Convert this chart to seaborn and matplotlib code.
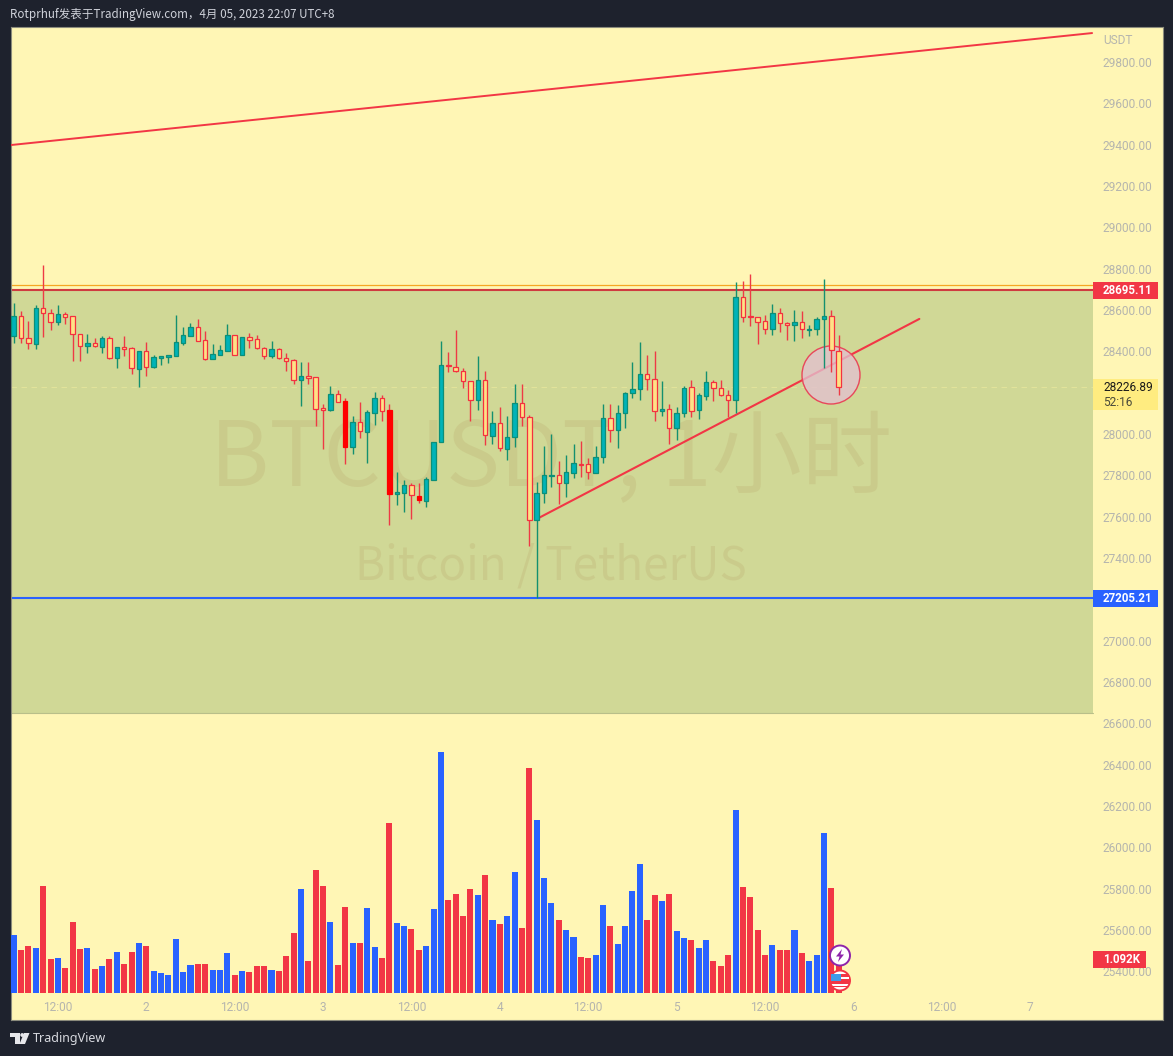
import numpy as np
import pandas as pd
import matplotlib
matplotlib.use("Agg")
import matplotlib.pyplot as plt
from matplotlib.patches import Ellipse, Rectangle, Polygon, Circle
from matplotlib.transforms import Affine2D
import seaborn as sns

# ---------- data ----------
opens = [28476,28571,28463,28437,28608,28584,28541,28579,28571,28482,
         28424,28439,28423,28463,28370,28420,28415,28316,28400,28323,
         28370,28374,28379,28442,28476,28516,28453,28365,28384,28403,
         28478,28384,28468,28458,28415,28379,28410,28366,28357,28263,
         28279,28274,28124,28116,28192,28158,27939,28057,28012,28104,
         28173,28115,27708,27716,27752,27702,27678,27779,27960,28332,
         28326,28303,28255,28163,28260,27992,28052,27929,27984,28149,
         28081,27583,27713,27799,27800,27762,27813,27857,27854,27813,
         27887,28076,28018,28100,28197,28216,28289,28265,28110,28120,
         28028,28100,28226,28115,28186,28250,28221,28187,28163,28661,
         28571,28565,28545,28507,28584,28536,28526,28540,28505,28507,
         28555,28570,28403]
closes = [28571,28463,28439,28608,28584,28541,28579,28568,28482,28424,
          28439,28424,28463,28370,28420,28413,28318,28402,28323,28371,
          28378,28381,28444,28478,28516,28452,28365,28386,28405,28478,
          28384,28468,28457,28415,28379,28410,28366,28355,28263,28279,
          28273,28123,28118,28192,28155,27939,28057,28013,28105,28173,
          28113,27708,27718,27752,27703,27679,27781,27960,28332,28328,
          28303,28255,28163,28260,27994,28052,27931,27984,28149,28081,
          27583,27713,27800,27802,27762,27815,27858,27852,27815,27887,
          28076,28018,28100,28197,28216,28289,28265,28110,28120,28028,
          28100,28223,28113,28189,28250,28223,28187,28163,28661,28568,
          28565,28544,28507,28584,28536,28526,28540,28507,28508,28555,
          28570,28407,28226.89]
highs = [28632,28595,28549,28624,28818,28603,28624,28592,28571,28482,
         28484,28463,28474,28474,28423,28474,28420,28402,28447,28381,
         28378,28381,28576,28516,28539,28555,28500,28434,28431,28532,
         28479,28471,28491,28478,28420,28452,28415,28391,28362,28350,
         28350,28274,28145,28234,28213,28173,28087,28157,28116,28202,
         28189,28145,27815,27778,27762,27765,27794,27960,28452,28395,
         28503,28318,28255,28378,28305,28113,28129,28087,28241,28241,
         28092,27770,27942,28000,27870,27899,27952,27968,27883,27942,
         28145,28145,28141,28205,28349,28447,28382,28402,28258,28145,
         28129,28232,28262,28200,28305,28262,28262,28213,28734,28740,
         28773,28568,28576,28628,28608,28540,28600,28595,28528,28565,
         28750,28600,28479]
lows = [28442,28439,28413,28413,28471,28503,28528,28532,28355,28355,
        28394,28423,28394,28365,28321,28378,28291,28229,28282,28321,
        28334,28342,28379,28431,28476,28449,28358,28362,28383,28403,
        28383,28383,28415,28412,28363,28366,28365,28305,28242,28136,
        28242,28041,27928,28113,28155,27857,27904,27979,27862,28044,
        28063,27560,27657,27624,27587,27665,27649,27778,27960,28302,
        28302,28221,28063,28116,27947,27950,27920,27874,27936,28039,
        27458,27205,27668,27742,27662,27697,27786,27794,27781,27813,
        27858,27963,27934,28031,28176,28165,28213,28065,28087,27950,
        27971,28084,28084,28073,28165,28162,28184,28081,28103,28544,
        28524,28434,28484,28481,28495,28455,28450,28463,28476,28479,
        28318,28302,28189]
volumes_k = [1.86,1.38,1.51,1.44,3.43,1.09,1.12,0.80,2.28,1.41,
             1.44,0.77,0.87,1.09,1.32,0.93,1.32,1.61,1.51,0.71,
             0.64,0.58,1.73,0.67,0.90,0.93,0.93,0.74,0.74,1.28,
             0.58,0.71,0.67,0.87,0.87,0.74,0.71,1.19,1.93,3.34,
             1.03,3.95,3.43,2.28,0.90,2.76,1.61,1.61,2.73,1.48,
             1.12,5.46,2.25,2.15,2.05,1.38,1.51,2.70,7.74,2.99,
             3.18,2.47,3.34,3.15,3.79,2.34,2.21,2.47,3.88,2.09,
             7.22,5.55,3.69,2.89,2.34,2.02,1.80,1.16,1.12,1.22,
             2.82,2.15,1.57,2.15,3.27,4.14,2.34,3.15,2.95,3.18,
             1.99,1.77,1.70,1.44,1.70,1.03,0.87,1.22,5.87,3.40,
             3.08,2.02,1.22,1.54,1.38,1.38,2.02,1.28,1.03,1.22,
             5.14,3.37,1.092]
solid_red_candles = [45, 51, 55]
x_tick_pos = [6, 18, 30, 42, 54, 66, 78, 90, 102, 114, 126, 138]
x_tick_labels = ['12:00', '2', '12:00', '3', '12:00', '4', '12:00', '5', '12:00', '6', '12:00', '7']
price_ticks = [25400, 25600, 25800, 26000, 26200, 26400, 26600, 26800, 27000, 27400, 27600,
               27800, 28000, 28400, 28600, 28800, 29000, 29200, 29400, 29600, 29800]
resistance = 28695.11
resistance_upper = 28720
support = 27205.21
zone_bottom = 26650
last_price = 28226.89
last_volume = 1.092
up_trend_x, up_trend_y = [-0.45, 146.4], [29398, 29940]
rise_trend_x, rise_trend_y = [71, 122.95], [27589, 28557]

# ---------- style ----------
BG = '#1e222d'
PANE = '#fff6b5'
ZONE = '#d0d896'
RED = '#f23645'
BLUE = '#2962ff'
LABEL = '#b5b5ae'
sns.set_theme(style='white')
plt.rcParams['font.family'] = ['Roboto', 'Noto Sans CJK SC', 'DejaVu Sans']

W, H = 1173, 1056
fig = plt.figure(figsize=(W / 100, H / 100), dpi=100, facecolor=BG)
px = Affine2D().scale(1, -1).translate(0, H)
L, R, T, B = 10.5, 1162.5, 27, 1020
ax = fig.add_axes([L / W, 1 - B / H, (R - L) / W, (B - T) / H], facecolor=PANE)

XS = 7.366      # pixels per candle
X0 = 13.7       # pixel of first candle
YS = 0.2067     # pixels per price unit
def xd(p): return (p - X0) / XS
def yd(p): return 29800 - (p - 62) / YS
ax.set_xlim(xd(L), xd(R))
ax.set_ylim(yd(B), yd(T))

idx = np.arange(len(opens))
o, c, h, l = map(np.array, (opens, closes, highs, lows))
up = c >= o
right_edge = xd(1093)

# zone and horizontal lines
ax.add_patch(Rectangle((xd(L), zone_bottom), right_edge - xd(L), resistance - zone_bottom,
                       facecolor=ZONE, edgecolor='none', zorder=1))
ax.plot([xd(L), right_edge], [zone_bottom, zone_bottom], color='#b9bf8a', lw=0.8, zorder=1.1)
ax.plot([xd(L), right_edge], [resistance_upper] * 2, color='#f5a623', lw=0.9, zorder=2)
ax.plot([xd(L), right_edge], [resistance] * 2, color='#cf3b3f', lw=1.5, zorder=2)
ax.plot([xd(L), right_edge], [support] * 2, color=BLUE, lw=1.5, zorder=2)
ax.plot([xd(L), right_edge], [last_price] * 2, color='#e2e39a', lw=0.8, ls=(0, (5, 4)), zorder=1.5)

# watermarks
wm = dict(color='#a5733c', alpha=0.12, ha='center', va='center', zorder=1.2,
          family=['Noto Sans CJK SC', 'DejaVu Sans'])
ax.text(xd(551), yd(461), 'BTCUSDT, 1小时', fontsize=65, **wm)
ax.text(xd(551), yd(566), 'Bitcoin / TetherUS', fontsize=33, **wm)

# trend lines and circle
ax.plot(up_trend_x, up_trend_y, color=RED, lw=1.4, zorder=3)
ax.plot(rise_trend_x, rise_trend_y, color=RED, lw=1.5, zorder=3)
ax.add_patch(Ellipse((xd(831), yd(375)), 58 / XS, 58 / YS, facecolor='#e3c0cf', alpha=0.78,
                     edgecolor='none', zorder=3.2))
ax.add_patch(Ellipse((xd(831), yd(375)), 58 / XS, 58 / YS, facecolor='none',
                     edgecolor='#e8475a', lw=1.0, zorder=3.3))

# candles
wick_col = np.where(up, '#14906f', '#ee3a45')
ax.vlines(idx, l, h, colors=wick_col, lw=1.0, zorder=4)
face = np.where(up, '#00b3b8', '#ffe186').astype(object)
edge = np.where(up, '#0c8f78', '#f5303f').astype(object)
for k in solid_red_candles:
    face[k] = '#ff0000'
    edge[k] = '#ff0000'
ax.bar(idx, np.maximum(np.abs(c - o), 1), bottom=np.minimum(o, c), width=0.6,
       color=list(face), edgecolor=list(edge), linewidth=0.9, zorder=5)

for s in ax.spines.values():
    s.set_color('#8b8b7c')
    s.set_linewidth(0.8)
ax.grid(False)
ax.text(xd(1103), yd(40), 'USDT', fontsize=8.6, color=LABEL, ha='left', va='center')

# price tags
def tag(axis, top, bottom, y_to_d, color, right=1158):
    axis.add_patch(Rectangle((xd(1093), y_to_d(bottom)), xd(right) - xd(1093),
                             y_to_d(top) - y_to_d(bottom), facecolor=color, edgecolor='none',
                             zorder=8))
tag(ax, 282, 298.5, yd, RED)
ax.text(xd(1127), yd(290.5), f'{resistance:.2f}', color='white', fontsize=8.3, weight='bold',
        ha='center', va='center', zorder=9)
tag(ax, 379, 410, yd, '#ffec80')
ax.text(xd(1103), yd(387.5), f'{last_price:.2f}', color='#1a1a1a', fontsize=8.6, ha='left',
        va='center', zorder=9)
ax.text(xd(1103), yd(402), '52:16', color='#4a4a3a', fontsize=8.6, ha='left', va='center', zorder=9)
tag(ax, 590, 606.5, yd, BLUE)
ax.text(xd(1127), yd(598.5), f'{support:.2f}', color='white', fontsize=8.3, weight='bold',
        ha='center', va='center', zorder=9)

# volume pane
VS = 0.0321     # volume (K) per pixel
ax2 = ax.twinx()
ax2.patch.set_visible(False)
vol_df = pd.DataFrame({'bar': idx, 'volume': volumes_k,
                       'direction': np.where(up, 'up', 'down')})
sns.barplot(data=vol_df, x='bar', y='volume', hue='direction', dodge=False, native_scale=True,
            palette={'up': BLUE, 'down': RED}, saturation=1, width=0.82, legend=False,
            edgecolor='none', linewidth=0, ax=ax2)
ax2.set_xlim(xd(L), xd(R))
ax2.set_ylim(-(B - 993) * VS, (993 - T) * VS)
ax2.set_ylabel('')
ax2.set_xlabel('')
ax2.set_yticks([])
ax2.tick_params(length=0, labelright=False)
ax2.grid(False)
for s in ax2.spines.values():
    s.set_visible(False)
def yv(p): return (993 - p) * VS
tag(ax2, 951, 968, yv, RED, right=1146)
ax2.text(xd(1122), yv(959.5), '1.092K', color='white', fontsize=8.3, weight='bold',
         ha='center', va='center', zorder=9)

# axes ticks (after twinx, which moves the main ticks to the left)
ax.yaxis.tick_right()
ax.set_yticks(price_ticks)
ax.set_yticklabels([f'{v:.2f}' for v in price_ticks])
ax.tick_params(axis='y', which='both', left=False, right=False, labelleft=False, labelright=True,
               length=0, pad=-42.9, labelsize=8.6, labelcolor=LABEL)
ax.set_xticks(x_tick_pos)
ax.set_xticklabels(x_tick_labels)
ax.tick_params(axis='x', length=0, pad=-13.8, labelsize=8.6, labelcolor=LABEL)

# header and footer
fig.text(10 / W, 1 - 14.5 / H, 'Rotprhuf发表于TradingView.com，4月 05, 2023 22:07 UTC+8',
         color='#cfd2da', fontsize=8.35, ha='left', va='center',
         family=['Noto Sans CJK SC', 'DejaVu Sans'])
fig.text(33 / W, 1 - 1038.5 / H, 'TradingView', color='#d6d8de', fontsize=9.0, ha='left', va='center',
         family=['Noto Sans', 'DejaVu Sans'])
logo = '#e6e7ea'
for pts in ([(10, 1033), (20, 1033), (20, 1044), (15, 1044), (15, 1037), (10, 1037)],
            [(24, 1033), (29.5, 1033), (25, 1044), (19.5, 1044)]):
    fig.add_artist(Polygon(pts, closed=True, facecolor=logo, edgecolor='none', transform=px, zorder=10))
fig.add_artist(Circle((22.2, 1035), 1.9, facecolor=logo, edgecolor='none', transform=px, zorder=10))

# event icons
fig.add_artist(Circle((840, 955.5), 10, facecolor='white', edgecolor='#8e24aa', lw=1.4, transform=px, zorder=10))
fig.add_artist(Polygon([(842, 949), (836, 956.5), (839.5, 956.5), (838, 962), (844, 954.5), (840.5, 954.5)],
                       closed=True, facecolor='#8e24aa', edgecolor='none', transform=px, zorder=11))
fig.add_artist(Circle((840, 980.5), 10, facecolor='white', edgecolor=RED, lw=1.4, transform=px, zorder=10))
fig.add_artist(Rectangle((831, 974), 18, 10, facecolor=RED, edgecolor='none', transform=px, zorder=11))
fig.add_artist(Rectangle((831, 974), 9.5, 6.5, facecolor='#3f9be8', edgecolor='none', transform=px, zorder=12))
fig.add_artist(Rectangle((840.5, 977), 8.5, 2, facecolor='white', edgecolor='none', transform=px, zorder=12))
fig.add_artist(Rectangle((832, 985.5), 16, 1.5, facecolor=RED, edgecolor='none', transform=px, zorder=11))

fig.savefig('out.png', dpi=100, facecolor=BG)
